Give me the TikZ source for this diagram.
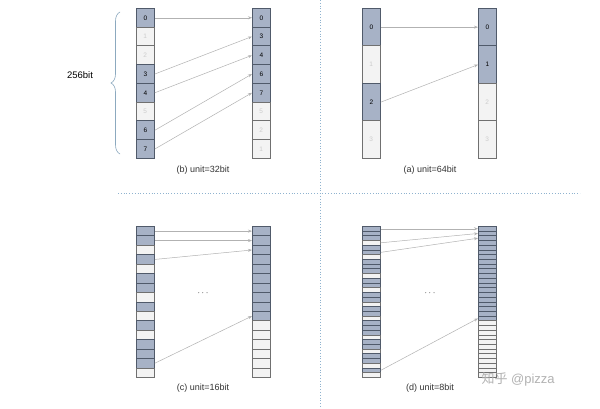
\documentclass[tikz,border=0pt]{standalone}
\usepackage{fontspec}
\setmainfont{Liberation Sans}
\newfontfamily\cjk{Noto Sans CJK SC}
\usetikzlibrary{arrows.meta,decorations.pathreplacing}
\definecolor{dk}{HTML}{A7B2C6}
\definecolor{dkb}{HTML}{505A6A}
\definecolor{lt}{HTML}{F3F3F3}
\definecolor{ltb}{HTML}{707070}
\definecolor{sep}{HTML}{8FB3CF}
\tikzset{
 dcell/.style={draw=dkb,fill=dk,line width=0.8pt},
 lcell/.style={draw=ltb,fill=lt,line width=0.6pt},
 arr/.style={draw=gray!60,line width=0.5pt,-{Stealth[length=4pt,width=3pt]}},
 captxt/.style={font=\fontsize{9}{11}\selectfont,text=black!80},
 num/.style={font=\fontsize{6.5}{8}\selectfont},
}
\newcommand{\mycol}[6]{%
 \foreach \i in {0,...,\numexpr#3-1\relax}{%
  \pgfmathsetmacro{\yy}{#2+\i*#4/#3}%
  \def\st{dcell}%
  \foreach \k in {#5}{\ifnum\k=\i\relax\global\def\stx{1}\fi}%
  \ifdefined\stx \def\st{lcell}\global\let\stx\undefined\fi
  \node[\st,minimum width=18pt,minimum height=#4pt/#3,inner sep=0pt,anchor=north west] (#6\i) at (#1,\yy) {};
 }}
\begin{document}
\begin{tikzpicture}[x=1pt,y=-1pt]
\useasboundingbox (0,0) rectangle (600,409);
\fill[white] (0,0) rectangle (600,409);
\draw[sep,dotted,line width=0.8pt] (320,0) -- (320,409);
\draw[sep,dotted,line width=0.8pt] (118,193) -- (580,193);
% (b)
\mycol{136}{8}{8}{150}{1,2,5}{b}
\mycol{252}{8}{8}{150}{5,6,7}{B}
\foreach \i in {0,3,4,6,7}{\node[num] at (b\i) {\i};}
\foreach \i in {1,2,5}{\node[num,text=gray!40] at (b\i) {\i};}
\foreach \i/\t in {0/0,1/3,2/4,3/6,4/7}{\node[num] at (B\i) {\t};}
\foreach \i/\t in {5/5,6/2,7/1}{\node[num,text=gray!40] at (B\i) {\t};}
\foreach \a/\b in {0/0,3/1,4/2,6/3,7/4}{\draw[arr] (b\a.east) -- (B\b.west);}
\draw[sep!80!gray,line width=0.6pt,decorate,decoration={brace,amplitude=9pt}] (120,154) -- (120,12);
\node[font=\fontsize{9.5}{11}\selectfont] at (80,75) {256bit};
\node[captxt] at (203,170) {(b) unit=32bit};
% (a)
\mycol{362}{8}{4}{150}{1,3}{a}
\mycol{478}{8}{4}{150}{2,3}{A}
\node[num] at (a0) {0};\node[num,text=gray!40] at (a1) {1};\node[num] at (a2) {2};\node[num,text=gray!40] at (a3) {3};
\node[num] at (A0) {0};\node[num] at (A1) {1};\node[num,text=gray!40] at (A2) {2};\node[num,text=gray!40] at (A3) {3};
\draw[arr] (a0.east) -- (A0.west);
\draw[arr] (a2.east) -- (A1.west);
\node[captxt] at (430,170) {(a) unit=64bit};
% (c)
\mycol{136}{226}{16}{151}{2,4,7,9,11,15}{c}
\mycol{252}{226}{16}{151}{10,11,12,13,14,15}{C}
\foreach \a/\b in {0/0,1/1,3/2,14/9}{\draw[arr] (c\a.east) -- (C\b.west);}
\node[font=\small] (dc) at (203,293) {$\cdots$};
\node[captxt] at (203,388) {(c) unit=16bit};
% (d)
\mycol{362}{226}{32}{151}{3,6,10,13,16,19,23,26,29,31}{d}
\mycol{478}{226}{32}{151}{20,21,22,23,24,25,26,27,28,29,30,31}{D}
\foreach \a/\b in {0/0,3/1,5/2,30/19}{\draw[arr] (d\a.east) -- (D\b.west);}
\node[font=\small] (dd) at (430,293) {$\cdots$};
\node[captxt] at (430,388) {(d) unit=8bit};
\node[text=gray!60,font=\fontsize{13}{15}\selectfont,anchor=west] (wm) at (478,379) {{\cjk 知乎} @pizza};
\end{tikzpicture}
\end{document}
